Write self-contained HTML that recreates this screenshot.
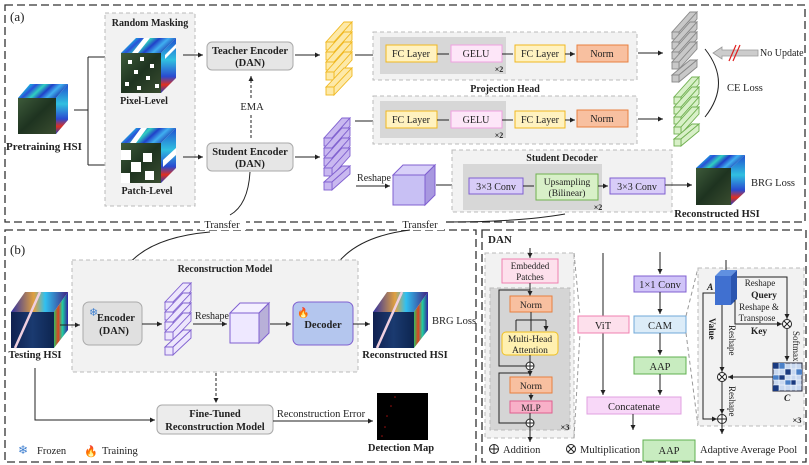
<!DOCTYPE html>
<html><head><meta charset="utf-8"><style>
html,body{margin:0;padding:0;background:#fff}
svg{display:block}
text{font-family:"Liberation Serif",serif;fill:#222}
.b{font-weight:bold}
</style></head><body>
<svg width="809" height="465" viewBox="0 0 809 465" xmlns="http://www.w3.org/2000/svg">
<defs>
<linearGradient id="jet" x1="0" y1="0" x2="1" y2="0.3">
<stop offset="0" stop-color="#1f3fd0"/><stop offset="0.2" stop-color="#19c0e0"/><stop offset="0.35" stop-color="#2a50d8"/><stop offset="0.5" stop-color="#30d0c0"/><stop offset="0.65" stop-color="#2040c8"/><stop offset="0.8" stop-color="#40b0f0"/><stop offset="1" stop-color="#1a3ab0"/>
</linearGradient>
<linearGradient id="jetr" x1="0" y1="0" x2="0" y2="1">
<stop offset="0" stop-color="#2050d0"/><stop offset="0.4" stop-color="#30c0e0"/><stop offset="0.7" stop-color="#2a4ad0"/><stop offset="0.85" stop-color="#e03020"/><stop offset="1" stop-color="#2040c0"/>
</linearGradient>
<linearGradient id="sat" x1="0" y1="0" x2="1" y2="1">
<stop offset="0" stop-color="#3d5a3a"/><stop offset="0.5" stop-color="#1e3320"/><stop offset="1" stop-color="#3a4d30"/>
</linearGradient>
<linearGradient id="tst" x1="0" y1="0" x2="1" y2="0">
<stop offset="0" stop-color="#102050"/><stop offset="0.5" stop-color="#1a3a70"/><stop offset="1" stop-color="#0d2550"/>
</linearGradient>
<linearGradient id="tstt" x1="0" y1="0" x2="1" y2="0">
<stop offset="0" stop-color="#3030a0"/><stop offset="0.4" stop-color="#e0a040"/><stop offset="0.6" stop-color="#30c0f0"/><stop offset="1" stop-color="#402080"/>
</linearGradient>
<linearGradient id="tstr" x1="0" y1="0" x2="1" y2="0">
<stop offset="0" stop-color="#30c060"/><stop offset="0.3" stop-color="#e04020"/><stop offset="0.6" stop-color="#20d0a0"/><stop offset="1" stop-color="#3020a0"/>
</linearGradient>
<marker id="ar" markerWidth="6" markerHeight="6" refX="5" refY="3" orient="auto"><path d="M0,0.5 L5,3 L0,5.5 z" fill="#222"/></marker>
</defs>

<!-- panel borders -->
<rect x="5" y="5" width="800" height="217" fill="none" stroke="#333" stroke-width="1.3" stroke-dasharray="8,4"/>
<rect x="5" y="230" width="471" height="232" fill="none" stroke="#333" stroke-width="1.3" stroke-dasharray="8,4"/>
<rect x="482" y="230" width="324" height="232" fill="none" stroke="#333" stroke-width="1.3" stroke-dasharray="8,4"/>
<text x="10" y="21" font-size="13">(a)</text>
<text x="10" y="254" font-size="13">(b)</text>

<!-- ===== (a) ===== -->
<g>
<polygon points="18,98 30,84 68,84 56,98" fill="url(#jet)"/>
<polygon points="56,98 68,84 68,120 56,134" fill="url(#jetr)"/>
<rect x="18" y="98" width="38" height="36" fill="url(#sat)"/>
</g>
<text x="44" y="150" font-size="11" class="b" text-anchor="middle">Pretraining HSI</text>
<path d="M74,110 H88 M88,57 V165" fill="none" stroke="#222" stroke-width="1"/>
<path d="M88,57 H112" stroke="#222" marker-end="url(#ar)"/>
<path d="M88,165 H112" stroke="#222" marker-end="url(#ar)"/>

<rect x="105" y="13" width="90" height="193" fill="#f2f2f2" stroke="#bbb" stroke-dasharray="4,3"/>
<text x="150" y="26" font-size="10" class="b" text-anchor="middle">Random Masking</text>
<polygon points="121,53 136,38 176,38 161,53" fill="url(#jet)"/>
<polygon points="161,53 176,38 176,78 161,93" fill="url(#jetr)"/>
<rect x="121" y="53" width="40" height="40" fill="url(#sat)"/>
<g fill="#fff"><rect x="128" y="60" width="4" height="4"/><rect x="140" y="57" width="4" height="4"/><rect x="150" y="64" width="4" height="4"/><rect x="134" y="70" width="4" height="4"/><rect x="146" y="76" width="4" height="4"/><rect x="125" y="82" width="4" height="4"/><rect x="155" y="84" width="4" height="4"/><rect x="137" y="86" width="4" height="4"/><polygon points="144,38 150,38 138,53 132,53"/><polygon points="165,55 176,44 176,48 165,59"/></g>
<text x="144" y="104" font-size="10" class="b" text-anchor="middle">Pixel-Level</text>
<polygon points="121,143 136,128 176,128 161,143" fill="url(#jet)"/>
<polygon points="161,143 176,128 176,168 161,183" fill="url(#jetr)"/>
<rect x="121" y="143" width="40" height="40" fill="url(#sat)"/>
<g fill="#fff"><rect x="121" y="150" width="10" height="10"/><rect x="143" y="153" width="9" height="9"/><rect x="131" y="162" width="10" height="10"/><rect x="121" y="173" width="9" height="10"/><rect x="145" y="171" width="9" height="9"/><polygon points="141,128 147,128 136,143 130,143"/><polygon points="163,160 176,148 176,155 163,167"/></g>
<text x="147" y="194" font-size="10" class="b" text-anchor="middle">Patch-Level</text>

<path d="M183,55 H203" stroke="#222" marker-end="url(#ar)"/>
<path d="M183,157 H203" stroke="#222" marker-end="url(#ar)"/>
<rect x="207" y="42" width="86" height="28" rx="5" fill="#e6e6e6" stroke="#aaa"/>
<text x="250" y="54" font-size="10.5" class="b" text-anchor="middle">Teacher Encoder</text>
<text x="250" y="66" font-size="10.5" class="b" text-anchor="middle">(DAN)</text>
<rect x="207" y="143" width="86" height="28" rx="5" fill="#e6e6e6" stroke="#aaa"/>
<text x="250" y="155" font-size="10.5" class="b" text-anchor="middle">Student Encoder</text>
<text x="250" y="167" font-size="10.5" class="b" text-anchor="middle">(DAN)</text>
<path d="M251,138 V76" stroke="#222" stroke-dasharray="3,2" marker-end="url(#ar)"/>
<rect x="238" y="99" width="26" height="14" fill="#fff"/>
<text x="252" y="110" font-size="10.5" text-anchor="middle">EMA</text>
<path d="M295,55 H320" stroke="#222" marker-end="url(#ar)"/>
<path d="M295,157 H320" stroke="#222" marker-end="url(#ar)"/>

<g fill="#fde9a8" stroke="#f0b820" stroke-width="0.9">
<polygon points="326,42 344,22 352,22 334,42"/><polygon points="334,42 352,22 352,30 334,50"/><rect x="326" y="42" width="8" height="8"/>
<polygon points="326,52 344,32 352,32 334,52"/><polygon points="334,52 352,32 352,40 334,60"/><rect x="326" y="52" width="8" height="8"/>
<polygon points="326,62 344,42 352,42 334,62"/><polygon points="334,62 352,42 352,50 334,70"/><rect x="326" y="62" width="8" height="8"/>
<polygon points="326,72 344,52 352,52 334,72"/><polygon points="334,72 352,52 352,60 334,80"/><rect x="326" y="72" width="8" height="8"/>
<polygon points="326,87 344,68 352,68 334,87"/><polygon points="334,87 352,68 352,76 334,95"/><rect x="326" y="87" width="8" height="8"/>
</g>
<g fill="#c9b8f0" stroke="#8060d0" stroke-width="0.9">
<polygon points="324,138 342,118 350,118 332,138"/><polygon points="332,138 350,118 350,126 332,146"/><rect x="324" y="138" width="8" height="8"/>
<polygon points="324,148 342,128 350,128 332,148"/><polygon points="332,148 350,128 350,136 332,156"/><rect x="324" y="148" width="8" height="8"/>
<polygon points="324,158 342,138 350,138 332,158"/><polygon points="332,158 350,138 350,146 332,166"/><rect x="324" y="158" width="8" height="8"/>
<polygon points="324,168 342,148 350,148 332,168"/><polygon points="332,168 350,148 350,156 332,176"/><rect x="324" y="168" width="8" height="8"/>
<polygon points="324,182 342,166 350,166 332,182"/><polygon points="332,182 350,166 350,174 332,190"/><rect x="324" y="182" width="8" height="8"/>
</g>
<path d="M355,55 H378" stroke="#222" marker-end="url(#ar)"/>
<path d="M355,121 H378" stroke="#222" marker-end="url(#ar)"/>

<g>
<rect x="373" y="32" width="264" height="48" fill="#f2f2f2" stroke="#bbb" stroke-dasharray="4,3"/>
<rect x="380" y="37" width="126" height="37" fill="#d7d7d7"/>
<rect x="386" y="45" width="51" height="17" fill="#fff2c0" stroke="#f0b820"/><text x="411" y="57" font-size="10" text-anchor="middle">FC Layer</text>
<rect x="451" y="45" width="51" height="17" fill="#fde6f8" stroke="#f0a0e0"/><text x="476" y="57" font-size="10" text-anchor="middle">GELU</text>
<rect x="515" y="45" width="50" height="17" fill="#fff2c0" stroke="#f0b820"/><text x="540" y="57" font-size="10" text-anchor="middle">FC Layer</text>
<rect x="577" y="45" width="51" height="17" fill="#f8c0a0" stroke="#e88040"/><text x="602" y="57" font-size="10" text-anchor="middle">Norm</text>
<path d="M437,54 H449 M502,54 H513 M565,54 H575" stroke="#222" marker-end="url(#ar)"/>
<text x="499" y="72" font-size="8" class="b" text-anchor="middle">×2</text>
</g>
<text x="505" y="92" font-size="10" class="b" text-anchor="middle">Projection Head</text>
<g>
<rect x="373" y="96" width="264" height="48" fill="#f2f2f2" stroke="#bbb" stroke-dasharray="4,3"/>
<rect x="380" y="101" width="126" height="37" fill="#d7d7d7"/>
<rect x="386" y="111" width="51" height="17" fill="#fff2c0" stroke="#f0b820"/><text x="411" y="123" font-size="10" text-anchor="middle">FC Layer</text>
<rect x="451" y="111" width="51" height="17" fill="#fde6f8" stroke="#f0a0e0"/><text x="476" y="123" font-size="10" text-anchor="middle">GELU</text>
<rect x="515" y="111" width="50" height="17" fill="#fff2c0" stroke="#f0b820"/><text x="540" y="123" font-size="10" text-anchor="middle">FC Layer</text>
<rect x="577" y="110" width="51" height="17" fill="#f8c0a0" stroke="#e88040"/><text x="602" y="122" font-size="10" text-anchor="middle">Norm</text>
<path d="M437,120 H449 M502,120 H513 M565,120 H575" stroke="#222" marker-end="url(#ar)"/>
<text x="499" y="138" font-size="8" class="b" text-anchor="middle">×2</text>
</g>
<path d="M638,53 H663" stroke="#222" marker-end="url(#ar)"/>
<path d="M638,119 H663" stroke="#222" marker-end="url(#ar)"/>

<g fill="#c8c8c8" stroke="#888" stroke-width="0.9">
<polygon points="672,32 690,12 697,12 679,32"/><polygon points="679,32 697,12 697,19 679,39"/><rect x="672" y="32" width="7" height="7"/>
<polygon points="672,42 690,22 697,22 679,42"/><polygon points="679,42 697,22 697,29 679,49"/><rect x="672" y="42" width="7" height="7"/>
<polygon points="672,52 690,32 697,32 679,52"/><polygon points="679,52 697,32 697,39 679,59"/><rect x="672" y="52" width="7" height="7"/>
<polygon points="672,62 690,42 697,42 679,62"/><polygon points="679,62 697,42 697,49 679,69"/><rect x="672" y="62" width="7" height="7"/>
<polygon points="672,75 690,60 697,60 679,75"/><polygon points="679,75 697,60 697,67 679,82"/><rect x="672" y="75" width="7" height="7"/>
</g>
<g fill="#d8f0c8" stroke="#70b050" stroke-width="0.9">
<polygon points="674,97 692,77 699,77 681,97"/><polygon points="681,97 699,77 699,84 681,104"/><rect x="674" y="97" width="7" height="7"/>
<polygon points="674,107 692,87 699,87 681,107"/><polygon points="681,107 699,87 699,94 681,114"/><rect x="674" y="107" width="7" height="7"/>
<polygon points="674,117 692,97 699,97 681,117"/><polygon points="681,117 699,97 699,104 681,124"/><rect x="674" y="117" width="7" height="7"/>
<polygon points="674,127 692,107 699,107 681,127"/><polygon points="681,127 699,107 699,114 681,134"/><rect x="674" y="127" width="7" height="7"/>
<polygon points="674,139 692,124 699,124 681,139"/><polygon points="681,139 699,124 699,131 681,146"/><rect x="674" y="139" width="7" height="7"/>
</g>
<path d="M705,49 Q732,83 705,117" fill="none" stroke="#222"/>
<text x="727" y="91" font-size="10.5">CE Loss</text>
<polygon points="758,50 722,50 722,47 713,53 722,59 722,56 758,56" fill="#ccc" stroke="#999" stroke-width="0.8"/>
<path d="M729,61 L736,45 M733,61 L740,45" stroke="#e02020" stroke-width="1.2"/>
<text x="760" y="56" font-size="10">No Update</text>

<text x="374" y="181" font-size="10" text-anchor="middle">Reshape</text>
<path d="M356,186 H390" stroke="#222" marker-end="url(#ar)"/>
<polygon points="393,175 403,165 435,165 425,175" fill="#d8d0f8" stroke="#8060d0"/>
<polygon points="425,175 435,165 435,195 425,205" fill="#a898e0" stroke="#8060d0"/>
<rect x="393" y="175" width="32" height="30" fill="#c8c0f4" stroke="#8060d0"/>
<path d="M436,185 H465" stroke="#222" marker-end="url(#ar)"/>

<rect x="452" y="150" width="220" height="62" fill="#f2f2f2" stroke="#bbb" stroke-dasharray="4,3"/>
<text x="562" y="161" font-size="10" class="b" text-anchor="middle">Student Decoder</text>
<rect x="463" y="164" width="139" height="46" fill="#d7d7d7"/>
<rect x="469" y="178" width="54" height="16" fill="#d8ccf8" stroke="#8060d0"/><text x="496" y="190" font-size="10" text-anchor="middle">3×3 Conv</text>
<rect x="536" y="174" width="62" height="26" fill="#d8f0c8" stroke="#70b050"/><text x="567" y="185" font-size="9.5" text-anchor="middle">Upsampling</text><text x="567" y="196" font-size="9.5" text-anchor="middle">(Bilinear)</text>
<rect x="610" y="178" width="55" height="16" fill="#d8ccf8" stroke="#8060d0"/><text x="637" y="190" font-size="10" text-anchor="middle">3×3 Conv</text>
<path d="M523,186 H534 M598,186 H608" stroke="#222" marker-end="url(#ar)"/>
<text x="598" y="210" font-size="8" class="b" text-anchor="middle">×2</text>
<path d="M665,185 H692" stroke="#222" marker-end="url(#ar)"/>
<polygon points="696,168 710,155 745,155 731,168" fill="url(#jet)"/>
<polygon points="731,168 745,155 745,192 731,205" fill="url(#jetr)"/>
<rect x="696" y="168" width="35" height="37" fill="url(#sat)"/>
<text x="717" y="217" font-size="10.5" class="b" text-anchor="middle">Reconstructed HSI</text>
<text x="773" y="186" font-size="10.5" text-anchor="middle">BRG Loss</text>

<rect x="200" y="216" width="46" height="14" fill="#fff"/>
<text x="222" y="228" font-size="10.5" text-anchor="middle">Transfer</text>
<rect x="398" y="216" width="46" height="14" fill="#fff"/>
<text x="420" y="228" font-size="10.5" text-anchor="middle">Transfer</text>
<path d="M250,172 Q248,205 230,215" fill="none" stroke="#222"/>
<path d="M565,214 Q520,222 446,222" fill="none" stroke="#222"/>
<path d="M210,232 Q120,240 114,300" fill="none" stroke="#222" marker-end="url(#ar)"/>
<path d="M410,230 Q330,240 323,300" fill="none" stroke="#222" marker-end="url(#ar)"/>

<!-- ===== (b) ===== -->
<rect x="72" y="260" width="286" height="112" fill="#f2f2f2" stroke="#bbb" stroke-dasharray="4,3"/>
<text x="225" y="272" font-size="10" class="b" text-anchor="middle">Reconstruction Model</text>
<polygon points="11,312 25,292 68,292 54,312" fill="url(#tstt)"/>
<polygon points="54,312 68,292 68,330 54,348" fill="url(#tstr)"/>
<rect x="11" y="312" width="43" height="36" fill="url(#tst)"/>
<path d="M15,348 L40,292" stroke="#f0d0e0" stroke-width="2.5"/>
<text x="35" y="358" font-size="10.5" class="b" text-anchor="middle">Testing HSI</text>
<path d="M60,325 H80" stroke="#222" marker-end="url(#ar)"/>
<rect x="83" y="302" width="59" height="43" rx="6" fill="#e0e0e0" stroke="#aaa"/>
<text x="89" y="316" font-size="11" style="fill:#4080d0">❄</text>
<text x="116" y="321" font-size="10.5" class="b" text-anchor="middle">Encoder</text>
<text x="114" y="334" font-size="10.5" class="b" text-anchor="middle">(DAN)</text>
<path d="M142,324 H162" stroke="#222" marker-end="url(#ar)"/>
<g fill="#ede6fc" stroke="#8060d0" stroke-width="0.9">
<polygon points="165,302 183,283 191,283 173,302"/><polygon points="173,302 191,283 191,291 173,310"/><rect x="165" y="302" width="8" height="8"/>
<polygon points="165,312 183,293 191,293 173,312"/><polygon points="173,312 191,293 191,301 173,320"/><rect x="165" y="312" width="8" height="8"/>
<polygon points="165,322 183,303 191,303 173,322"/><polygon points="173,322 191,303 191,311 173,330"/><rect x="165" y="322" width="8" height="8"/>
<polygon points="165,332 183,313 191,313 173,332"/><polygon points="173,332 191,313 191,321 173,340"/><rect x="165" y="332" width="8" height="8"/>
<polygon points="165,347 183,330 191,330 173,347"/><polygon points="173,347 191,330 191,338 173,355"/><rect x="165" y="347" width="8" height="8"/>
</g>
<text x="212" y="319" font-size="10" text-anchor="middle">Reshape</text>
<path d="M193,324 H227" stroke="#222" marker-end="url(#ar)"/>
<polygon points="230,313 240,303 269,303 259,313" fill="#f4f0ff" stroke="#8060d0"/>
<polygon points="259,313 269,303 269,333 259,343" fill="#b8b0d8" stroke="#8060d0"/>
<rect x="230" y="313" width="29" height="30" fill="#eee8ff" stroke="#8060d0"/>
<path d="M270,324 H291" stroke="#222" marker-end="url(#ar)"/>
<rect x="293" y="302" width="60" height="43" rx="6" fill="#b4c6ee" stroke="#8060d0"/>
<text x="297" y="316" font-size="10" style="fill:#f05010">🔥</text>
<text x="323" y="328" font-size="10.5" class="b" text-anchor="middle">Decoder</text>
<path d="M353,324 H370" stroke="#222" marker-end="url(#ar)"/>
<polygon points="373,312 387,292 428,292 414,312" fill="url(#tstt)"/>
<polygon points="414,312 428,292 428,330 414,348" fill="url(#tstr)"/>
<rect x="373" y="312" width="41" height="36" fill="url(#tst)"/>
<path d="M377,348 L402,292" stroke="#f0d0e0" stroke-width="2.5"/>
<text x="405" y="358" font-size="10.5" class="b" text-anchor="middle">Reconstructed HSI</text>
<text x="432" y="324" font-size="10.5">BRG Loss</text>
<path d="M216,373 V403" stroke="#222" stroke-dasharray="3,2" marker-end="url(#ar)"/>
<path d="M35,368 V420 H155" fill="none" stroke="#222" marker-end="url(#ar)"/>
<rect x="157" y="405" width="116" height="29" rx="5" fill="#ececec" stroke="#aaa"/>
<text x="215" y="417" font-size="10.5" class="b" text-anchor="middle">Fine-Tuned</text>
<text x="215" y="430" font-size="10.5" class="b" text-anchor="middle">Reconstruction Model</text>
<text x="321" y="417" font-size="10.5" text-anchor="middle">Reconstruction Error</text>
<path d="M273,421 H373" stroke="#222" marker-end="url(#ar)"/>
<rect x="377" y="393" width="51" height="47" fill="#000"/>
<g fill="#a01010"><circle cx="395" cy="397" r="0.8"/><circle cx="391" cy="406" r="0.8"/><circle cx="387" cy="416" r="0.8"/><circle cx="385" cy="427" r="0.8"/><circle cx="382" cy="436" r="0.8"/></g>
<text x="401" y="451" font-size="10.5" class="b" text-anchor="middle">Detection Map</text>
<text x="18" y="454" font-size="12" style="fill:#4080d0">❄</text>
<text x="37" y="454" font-size="10.5">Frozen</text>
<text x="84" y="455" font-size="11" style="fill:#f05010">🔥</text>
<text x="102" y="454" font-size="10.5">Training</text>

<!-- ===== DAN ===== -->
<text x="488" y="243" font-size="11" class="b">DAN</text>
<rect x="485" y="253" width="89" height="185" fill="#f2f2f2" stroke="#bbb" stroke-dasharray="4,3"/>
<rect x="490" y="288" width="80" height="142" fill="#d5d5d5" stroke="#bbb" stroke-dasharray="4,3"/>
<path d="M530,248 V258" stroke="#222" marker-end="url(#ar)"/>
<rect x="502" y="259" width="56" height="24" fill="#fde0ec" stroke="#f080b0"/>
<text x="530" y="269" font-size="9" text-anchor="middle">Embedded</text><text x="530" y="280" font-size="9" text-anchor="middle">Patches</text>
<path d="M530,283 V296" stroke="#222" marker-end="url(#ar)"/>
<path d="M530,290 H499 V366 H526" fill="none" stroke="#222"/>
<rect x="510" y="296" width="42" height="16" fill="#f8c0a0" stroke="#e88040"/><text x="531" y="308" font-size="9.5" text-anchor="middle">Norm</text>
<path d="M531,312 V320 M516,320 H546" fill="none" stroke="#222"/>
<path d="M516,320 V331 M531,320 V331 M546,320 V331" stroke="#222" marker-end="url(#ar)"/>
<rect x="502" y="332" width="56" height="23" rx="4" fill="#fff0b0" stroke="#f0c020"/>
<text x="530" y="342" font-size="9.5" text-anchor="middle">Multi-Head</text><text x="530" y="353" font-size="9.5" text-anchor="middle">Attention</text>
<path d="M530,355 V362" stroke="#222"/>
<circle cx="530" cy="366" r="4" fill="#fff" stroke="#222"/><path d="M526,366 H534 M530,362 V370" stroke="#222"/>
<path d="M530,370 V376" stroke="#222" marker-end="url(#ar)"/>
<path d="M530,373 H499 V423 H526" fill="none" stroke="#222"/>
<rect x="510" y="377" width="42" height="16" fill="#f8c0a0" stroke="#e88040"/><text x="531" y="389" font-size="9.5" text-anchor="middle">Norm</text>
<path d="M531,393 V400" stroke="#222" marker-end="url(#ar)"/>
<rect x="510" y="401" width="42" height="12" fill="#f8b0c8" stroke="#e06090"/><text x="531" y="411" font-size="9.5" text-anchor="middle">MLP</text>
<path d="M530,413 V419" stroke="#222"/>
<circle cx="530" cy="423" r="4" fill="#fff" stroke="#222"/><path d="M526,423 H534 M530,419 V427" stroke="#222"/>
<text x="565" y="430" font-size="8.5" class="b" text-anchor="middle">×3</text>
<path d="M530,427 V442" stroke="#222" marker-end="url(#ar)"/>
<path d="M574,253 L580,316 M574,438 L580,333" stroke="#999" stroke-dasharray="4,3"/>

<path d="M603,253 V395" stroke="#222" marker-end="url(#ar)"/>
<rect x="578" y="316" width="51" height="17" fill="#fde0ec" stroke="#f080b0"/><text x="603" y="329" font-size="10.5" text-anchor="middle">ViT</text>
<path d="M660,252 V274" stroke="#222" marker-end="url(#ar)"/>
<rect x="634" y="276" width="52" height="16" fill="#d0c4f8" stroke="#8060d0"/><text x="660" y="288" font-size="10.5" text-anchor="middle">1×1 Conv</text>
<path d="M660,292 V314" stroke="#222" marker-end="url(#ar)"/>
<rect x="634" y="316" width="52" height="17" fill="#dcecf8" stroke="#70a8d8"/><text x="660" y="329" font-size="10.5" text-anchor="middle">CAM</text>
<path d="M660,333 V355" stroke="#222" marker-end="url(#ar)"/>
<rect x="634" y="357" width="52" height="17" fill="#c8ecc0" stroke="#60b050"/><text x="660" y="370" font-size="10.5" text-anchor="middle">AAP</text>
<path d="M660,374 V395" stroke="#222" marker-end="url(#ar)"/>
<rect x="587" y="397" width="94" height="17" fill="#f8d8f8" stroke="#e0a0e0"/><text x="634" y="410" font-size="10.5" text-anchor="middle">Concatenate</text>
<path d="M633,414 V430" stroke="#222" marker-end="url(#ar)"/>
<path d="M686,316 L698,268 M686,333 L698,426" stroke="#999" stroke-dasharray="4,3"/>

<rect x="698" y="268" width="106" height="158" fill="#f2f2f2" stroke="#bbb" stroke-dasharray="4,3"/>
<path d="M726,260 V276" stroke="#222" marker-end="url(#ar)"/>
<polygon points="715,276 721,270 737,270 731,276" fill="#6090e0"/>
<polygon points="731,276 737,270 737,299 731,305" fill="#2a55b0"/>
<rect x="715" y="276" width="16" height="29" fill="#4070d0"/>
<text x="707" y="290" font-size="9.5" class="b" font-style="italic">A</text>
<path d="M737,277 H787 V319" fill="none" stroke="#222" marker-end="url(#ar)"/>
<text x="760" y="286" font-size="9" text-anchor="middle">Reshape</text>
<text x="764" y="298" font-size="9.5" class="b" text-anchor="middle">Query</text>
<text x="759" y="310" font-size="9" text-anchor="middle">Reshape &amp;</text>
<text x="757" y="321" font-size="9" text-anchor="middle">Transpose</text>
<path d="M735,300 V324 H782" fill="none" stroke="#222" marker-end="url(#ar)"/>
<text x="759" y="334" font-size="9.5" class="b" text-anchor="middle">Key</text>
<circle cx="787" cy="324" r="4.5" fill="#fff" stroke="#222"/><path d="M784,321 L790,327 M790,321 L784,327" stroke="#222"/>
<path d="M787,329 V361" stroke="#222" marker-end="url(#ar)"/>
<text x="793" y="331" font-size="9" transform="rotate(90 793 331)">Softmax</text>
<g>
<rect x="773" y="363" width="29" height="28" fill="#c8d8f0" stroke="#223"/>
<g fill="#1a3a80"><rect x="773" y="363" width="6" height="6"/><rect x="785" y="369" width="6" height="6"/><rect x="779" y="375" width="6" height="5"/><rect x="791" y="380" width="5" height="5"/><rect x="773" y="385" width="6" height="6"/></g>
<g fill="#4a80c8"><rect x="779" y="363" width="6" height="6"/><rect x="796" y="369" width="6" height="6"/><rect x="785" y="380" width="6" height="5"/><rect x="773" y="375" width="6" height="5"/></g>
<path d="M779,363 V391 M785,363 V391 M791,363 V391 M796,363 V391 M773,369 H802 M773,375 H802 M773,380 H802 M773,385 H802" stroke="#fff" stroke-width="0.6"/>
</g>
<text x="784" y="401" font-size="9.5" class="b" font-style="italic">C</text>
<path d="M773,377 H728" stroke="#222" marker-end="url(#ar)"/>
<path d="M722,305 V372" stroke="#222" marker-end="url(#ar)"/>
<circle cx="722" cy="377" r="4.5" fill="#fff" stroke="#222"/><path d="M719,374 L725,380 M725,374 L719,380" stroke="#222"/>
<text x="709" y="318" font-size="9" class="b" transform="rotate(90 709 318)">Value</text>
<text x="729" y="325" font-size="9" transform="rotate(90 729 325)">Reshape</text>
<text x="729" y="386" font-size="9" transform="rotate(90 729 386)">Reshape</text>
<path d="M722,382 V414" stroke="#222" marker-end="url(#ar)"/>
<path d="M715,293 H703 V419 H717" fill="none" stroke="#222" marker-end="url(#ar)"/>
<circle cx="722" cy="419" r="4.5" fill="#fff" stroke="#222"/><path d="M717.5,419 H726.5 M722,414.5 V423.5" stroke="#222"/>
<path d="M722,424 V434" stroke="#222" marker-end="url(#ar)"/>
<text x="797" y="423" font-size="8.5" class="b" text-anchor="middle">×3</text>

<circle cx="494" cy="449" r="4.5" fill="#fff" stroke="#222"/><path d="M489.5,449 H498.5 M494,444.5 V453.5" stroke="#222"/>
<text x="503" y="453" font-size="10.5">Addition</text>
<circle cx="571" cy="449" r="4.5" fill="#fff" stroke="#222"/><path d="M568,446 L574,452 M574,446 L568,452" stroke="#222"/>
<text x="580" y="453" font-size="10.5">Multiplication</text>
<rect x="643" y="440" width="52" height="21" fill="#c8ecc0" stroke="#60b050"/>
<text x="669" y="454" font-size="10.5" text-anchor="middle">AAP</text>
<text x="700" y="453" font-size="10.5">Adaptive Average Pool</text>
</svg>
</body></html>
